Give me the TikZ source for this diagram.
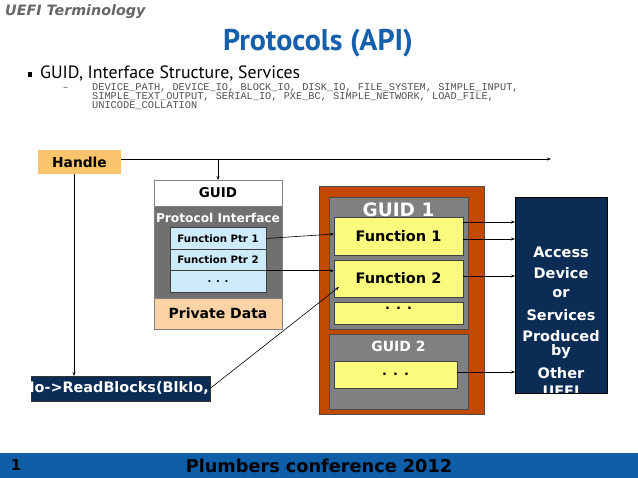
\documentclass[tikz,border=0pt]{standalone}
\usepackage{fontspec}
\setmainfont{DejaVu Sans}
\newfontfamily\titlefont{PT Sans}
\newfontfamily\monofont{Liberation Mono}
\usetikzlibrary{arrows.meta}
\definecolor{titleblue}{HTML}{1560AC}
\definecolor{footblue}{HTML}{0F5EA8}
\definecolor{handleor}{HTML}{F9C46B}
\definecolor{peach}{HTML}{FBD3A5}
\definecolor{ltblue}{HTML}{CDEBFA}
\definecolor{pigray}{HTML}{707070}
\definecolor{guidgray}{HTML}{808080}
\definecolor{rust}{HTML}{C14A00}
\definecolor{ylw}{HTML}{FAFA7C}
\definecolor{navy}{HTML}{0B2C54}
\definecolor{monogray}{HTML}{505050}
\begin{document}
\begin{tikzpicture}[x=1pt,y=-1pt,
  cell/.style={draw, inner sep=0pt, outer sep=0pt, align=center, line width=0.8pt},
  bf/.style={font=\bfseries\fontsize{#1}{#1}\selectfont},
  arr/.style={-{Stealth[length=4pt,width=3pt]}, line width=0.6pt},
  wt/.style={text=white, inner sep=0pt},
  mono/.style={anchor=base west, inner sep=0pt, text height=6.5pt, text depth=1.5pt, text=monogray, font=\monofont\fontsize{10.3}{8.6}\selectfont}
]
\useasboundingbox (0,0) rectangle (638,478);
\fill[white] (0,0) rectangle (638,478);

% header texts
\node[anchor=west, inner sep=0pt, text=gray!80!black, font=\bfseries\itshape\fontsize{14.3}{14.3}\selectfont] (hdr) at (5,12) {UEFI Terminology};
\node[inner sep=0pt, text=titleblue, font=\titlefont\bfseries\fontsize{30}{30}\selectfont] (title) at (318,43) {Protocols (API)};
\fill (28,72) rectangle (32,77);
\node[anchor=base west, inner sep=0pt, text depth=2pt, font=\titlefont\fontsize{17.8}{17.8}\selectfont] (bullet) at (40,79) {GUID, Interface Structure, Services};
\node[anchor=base west, inner sep=0pt, text height=6pt, text depth=0pt, text=monogray, font=\fontsize{10}{10}\selectfont] (dash) at (63,91) {–};
\node[mono] (mono1) at (92,91) {DEVICE\_PATH, DEVICE\_IO, BLOCK\_IO, DISK\_IO, FILE\_SYSTEM, SIMPLE\_INPUT,};
\node[mono] (mono2) at (92,99.6) {SIMPLE\_TEXT\_OUTPUT, SERIAL\_IO, PXE\_BC, SIMPLE\_NETWORK, LOAD\_FILE,};
\node[mono] (mono3) at (92,108.2) {UNICODE\_COLLATION};

% Handle
\node[inner sep=0pt, fill=handleor, minimum width=83pt, minimum height=24pt, bf=13.8] (Handle) at (79.5,162) {Handle};
\coordinate (hend) at (551,159);
\coordinate (hx) at (74,0);

% left structure
\node[cell, draw=gray, fill=white, minimum width=128pt, minimum height=26pt, bf=13.5] (GUID) at (218,193) {GUID};
\node[cell, draw=gray, fill=pigray, minimum width=128pt, minimum height=92pt] (PI) at (218,252) {};
\node[wt, bf=12.2] (PIlbl) at (218,218) {Protocol Interface};
\node[cell, draw=black!75, fill=ltblue, minimum width=96pt, minimum height=21.5pt, bf=10.2] (FP1) at (218,238.5) {Function Ptr 1};
\node[cell, draw=black!75, fill=ltblue, minimum width=96pt, minimum height=21.5pt, bf=10.2] (FP2) at (218,260) {Function Ptr 2};
\node[cell, draw=black!75, fill=ltblue, minimum width=96pt, minimum height=21.5pt, bf=10] (FP3) at (218,281.5) {. . .};
\node[cell, draw=gray, fill=peach, minimum width=128pt, minimum height=31pt, bf=14] (PD) at (218,313.5) {Private Data};

% ReadBlocks box
\node[cell, draw=black!80, fill=navy, minimum width=179pt, minimum height=25pt] (RB) at (120.5,388.5) {};
\begin{scope}
\clip (RB.south west) rectangle (RB.north east);
\node[anchor=east, wt, bf=14.4] (RBtxt) at ([xshift=-1pt]RB.east) {Io->ReadBlocks(BlkIo,};
\end{scope}

% protocol database
\node[cell, draw=black!70, fill=rust, minimum width=165pt, minimum height=228pt] (OR) at (401.5,300) {};
\node[cell, draw=black!70, fill=guidgray, minimum width=139pt, minimum height=132pt] (G1) at (398.5,263) {};
\node[wt, bf=18.5] (G1lbl) at (398.5,210) {GUID 1};
\node[cell, draw=black!75, fill=ylw, minimum width=129pt, minimum height=38pt, bf=14.5] (F1) at (398.5,236) {Function 1};
\node[cell, draw=black!75, fill=ylw, minimum width=129pt, minimum height=37pt, bf=14.5] (F2) at (398.5,278.5) {Function 2};
\node[cell, draw=black!75, fill=ylw, minimum width=129pt, minimum height=22pt] (F3) at (398.5,313) {};
\node[inner sep=0pt, bf=13] (F3lbl) at (398.5,308) {. . .};
\node[cell, draw=black!70, fill=guidgray, minimum width=139pt, minimum height=75pt] (G2) at (398.5,371.5) {};
\node[wt, bf=14] (G2lbl) at (398.5,346) {GUID 2};
\node[cell, draw=black!75, fill=ylw, minimum width=123pt, minimum height=27pt, bf=13] (G2d) at (395.5,374.5) {. . .};

% right navy box
\node[cell, draw=black, fill=navy, minimum width=92pt, minimum height=196pt] (NV) at (561,295) {};
\begin{scope}
\clip (NV.south west) rectangle (NV.north east);
\foreach \t/\yy in {Access/252, Device/273, or/294, Services/315, Produced/336, by/352, Other/373, UEFI/391}
  \node[wt, bf=14.5] at (561,\yy) {\t};
\end{scope}

% footer
\fill[footblue] (0,453) rectangle (638,478);
\node[inner sep=0pt, bf=15] (pg) at (16,465) {1};
\node[inner sep=0pt, bf=17.7] (foot) at (319,466) {Plumbers conference 2012};

% connectors
\draw[arr] ([yshift=3pt]Handle.east) -- (hend);
\draw[arr] (GUID.north |- hend) -- (GUID.north);
\draw[arr] (Handle.south -| hx) -- (RB.north -| hx);
\draw[arr] (FP1.east) -- ([yshift=2pt]F1.west);
\draw[arr] (FP2.south east) -- (FP2.south east -| F1.west);
\draw[arr] (RB.east) -- ([xshift=5pt,yshift=-8.5pt]F2.west);
\draw[arr] ([yshift=14pt]F1.east) -- ([yshift=14pt]F1.east -| NV.west);
\draw[arr] ([yshift=-3pt]F1.east) -- ([yshift=-3pt]F1.east -| NV.west);
\draw[arr] ([yshift=2.5pt]F2.east) -- ([yshift=2.5pt]F2.east -| NV.west);
\draw[arr] ([yshift=2.5pt]G2d.east) -- ([yshift=2.5pt]G2d.east -| NV.west);
\end{tikzpicture}
\end{document}
